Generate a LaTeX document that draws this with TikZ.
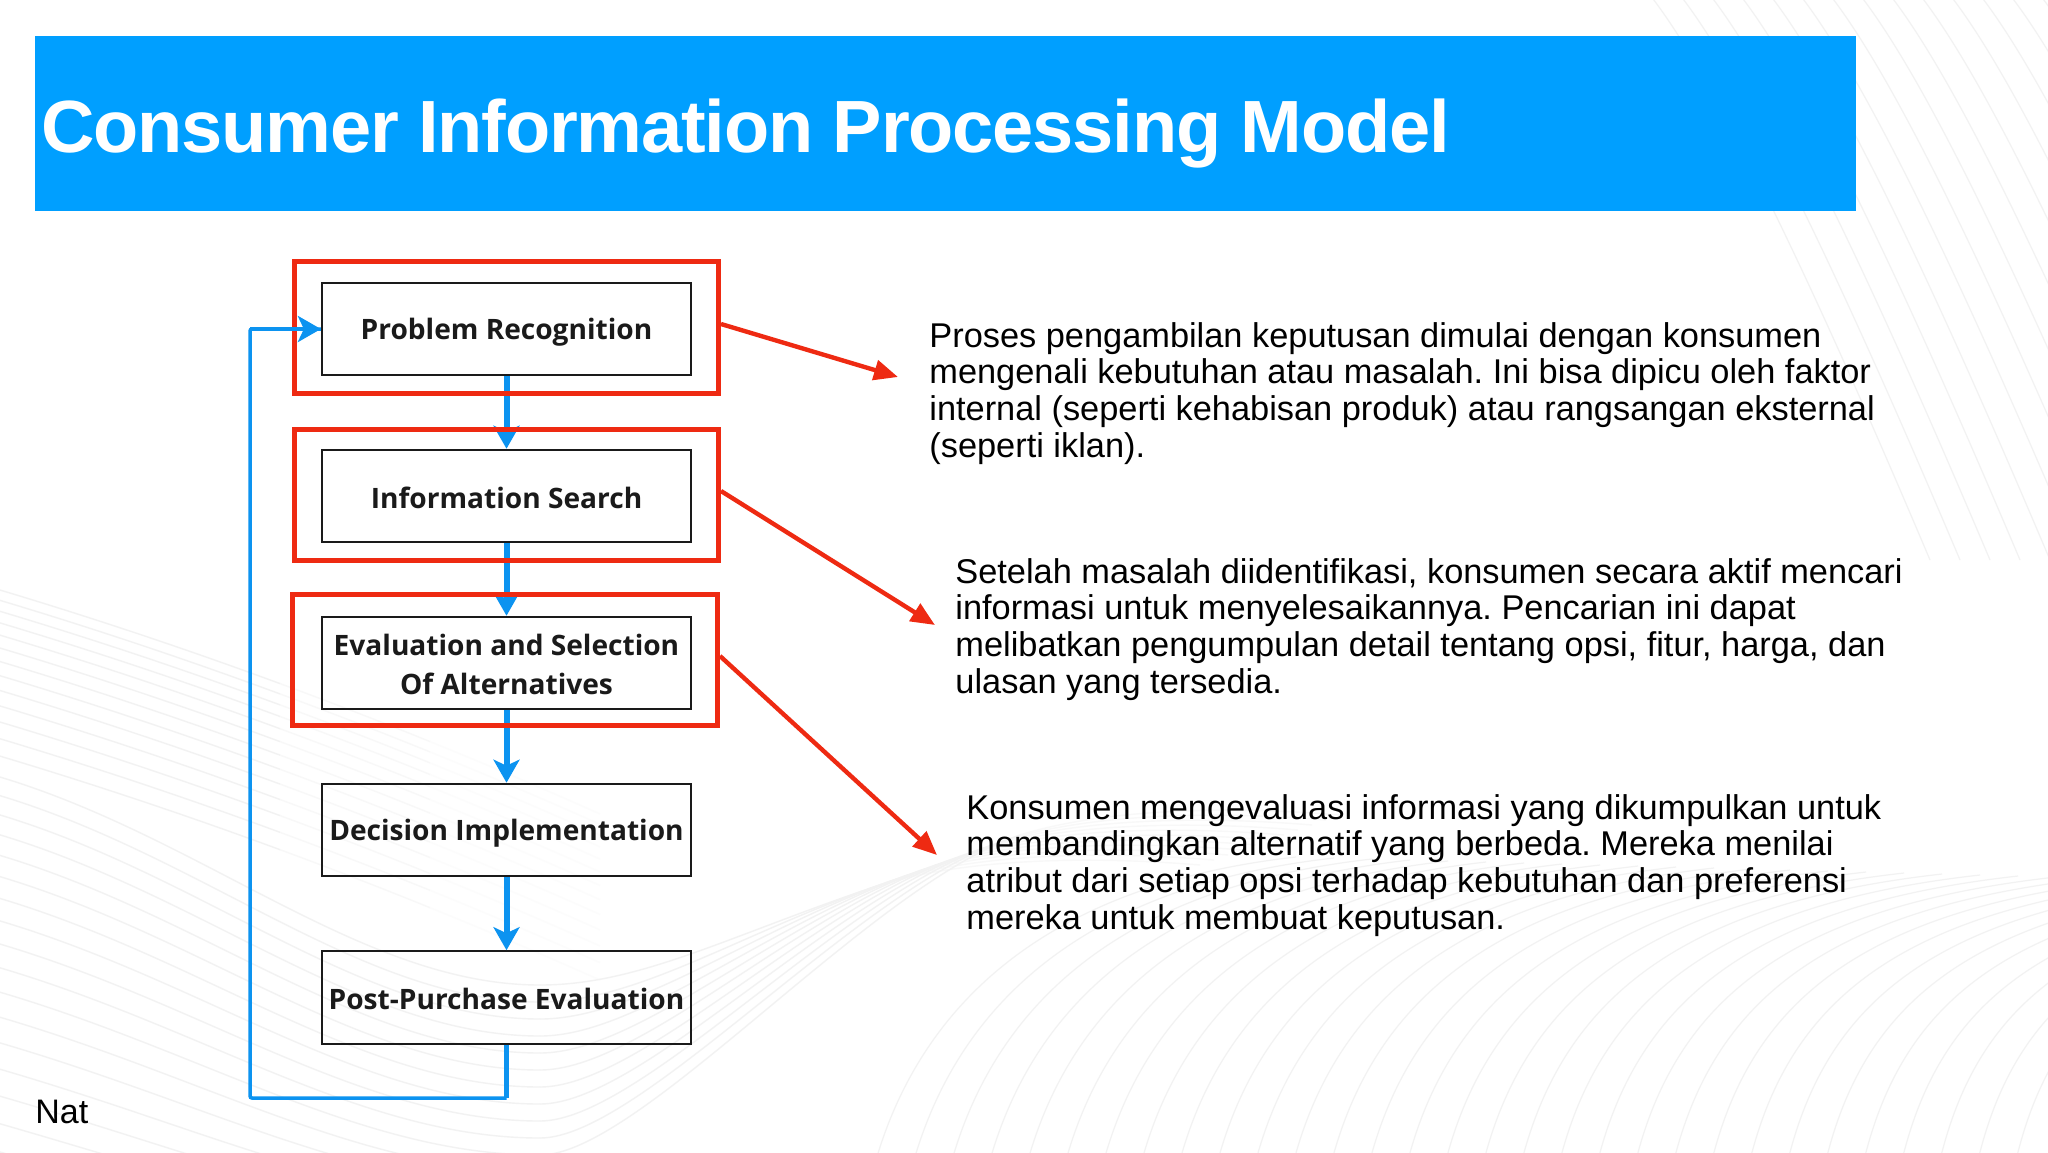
\documentclass[tikz,border=0pt]{standalone}
\usepackage{fontspec}
\setmainfont{Liberation Sans}
\newfontfamily\boxfont{Open Sans}[BoldFont={Open Sans Bold}]
\usetikzlibrary{arrows.meta}
\definecolor{titleblue}{HTML}{009FFF}
\definecolor{flowblue}{HTML}{0C93F0}
\definecolor{redline}{HTML}{EE2A12}
\definecolor{inkblack}{HTML}{1A1A1A}
\definecolor{wave}{HTML}{F2F2F2}
\definecolor{wavefaint}{HTML}{F8F8F8}
\definecolor{wavefainter}{HTML}{FCFCFC}
\newcommand\stg[1]{\rule[-2pt]{0pt}{16pt}#1}
\tikzset{
  x=0.5pt,y=-0.5pt,
  stage/.style={draw=inkblack,line width=1.1pt,minimum width=184.5pt,minimum height=46.2pt,inner sep=0pt,align=center,font=\boxfont\bfseries\fontsize{14.05}{19.25}\selectfont,text=inkblack},
  redbox/.style={draw=redline,line width=2.5pt,minimum width=212pt,inner sep=0pt},
  flow/.style={draw=flowblue,line width=3pt,-{Stealth[length=11.5pt,width=13pt,inset=3pt]}},
  feedback/.style={draw=flowblue,line width=1.75pt,rounded corners=1pt},
  pointer/.style={draw=redline,line width=2.2pt,-{Stealth[length=12pt,width=10pt,inset=0pt]}},
  body/.style={anchor=north west,align=left,inner sep=0pt,font=\frenchspacing\fontsize{17.18}{18.3}\selectfont,text=black},
  waveline/.style={draw=wave,line width=0.7pt}
}
\begin{document}
\begin{tikzpicture}
\useasboundingbox (0,0) rectangle (2048,1152);
\fill[white] (0,0) rectangle (2048,1152);
% faint background line pattern
\begin{scope}
\clip (0,0) rectangle (2048,1152);
% upper left lines, fading out towards the right
\foreach \i in {0,...,12}{
  \pgfmathsetmacro{\ya}{590+\i*(10+0.32*\i)}
  \draw[waveline] plot[domain=-10:280,samples=12] (\x,{\ya+0.30*\x+0.00012*\x*\x});
  \draw[waveline,draw=wavefaint] plot[domain=280:430,samples=8] (\x,{\ya+0.30*\x+0.00012*\x*\x});
  \draw[waveline,draw=wavefainter] plot[domain=430:600,samples=8] (\x,{\ya+0.30*\x+0.00012*\x*\x});
}
% lower left lines: down to a valley, up to the hump, and over it
\foreach \k in {0,...,17}{
  \pgfmathsetmacro{\ya}{590+(\k+13)*(10+0.32*(\k+13))}
  \pgfmathsetmacro{\yv}{985+17*\k}
  \draw[waveline] (-10,\ya) .. controls (200,{\ya+60}) and (360,\yv) .. (540,\yv);
  \ifnum\k<11
    \pgfmathsetmacro{\xc}{880+14*\k}
    \pgfmathsetmacro{\yc}{885-5*\k}
    \draw[waveline] (540,\yv) .. controls (640,\yv) and ({\xc-150},{\yc+50}) .. (\xc,\yc);
    \draw[waveline,draw=wavefaint] (\xc,\yc) .. controls ({\xc+80},{\yc-25}) and ({\xc+200},{\yc-30}) .. ({\xc+320},{\yc-20});
  \fi
}
% hump family, rising from the bottom edge and bending right
\foreach \j in {7,...,38}{
  \pgfmathsetmacro{\xa}{610+\j*38}
  \draw[waveline,line width=0.6pt] (\xa,1160) .. controls ({\xa+40},{1030-\j}) and ({\xa+150},{880+\j}) .. ({\xa+420},{850+\j});
}
% top right family
\foreach \i in {0,...,14}{
  \pgfmathsetmacro{\xb}{1650+\i*30}
  \draw[waveline,line width=0.6pt] (\xb,-5) .. controls ({\xb+70},85) and ({\xb+170},300) .. ({\xb+280},560);
}
\end{scope}
% title band
\node[fill=titleblue,minimum width=910.5pt,minimum height=87.5pt,inner sep=0pt,anchor=north west] (band) at (35,36) {};
\node[anchor=base west,inner sep=0pt,text=white,font=\bfseries\fontsize{37}{40}\selectfont\addfontfeature{LetterSpace=-1.6}] (title) at (41,152) {Consumer Information Processing Model};
% stages
\node[stage] (s1) at (506.5,329) {\stg{Problem Recognition}};
\node[stage] (s2) at (506.5,496) {\stg{Information Search}};
\node[stage] (s3) at (506.5,663) {\stg{Evaluation and Selection}\\\stg{Of Alternatives}};
\node[stage] (s4) at (506.5,830) {\stg{Decision Implementation}};
\node[stage] (s5) at (506.5,997.5) {\stg{Post-Purchase Evaluation}};
% flow arrows (beneath the red frames)
\draw[flow] (s1) -- (s2);
\draw[flow] (s2) -- (s3);
\draw[flow] (s3) -- (s4);
\draw[flow] (s4) -- (s5);
% red frames
\node[redbox,minimum height=66pt] (r1) at (506.5,327.5) {};
\node[redbox,minimum height=65.5pt] (r2) at (506.5,495) {};
\node[redbox,minimum height=65.5pt,minimum width=212.5pt] (r3) at (505,660) {};
% feedback loop
\coordinate (fb1) at (250,1098);
\coordinate (fb2) at (250,329);
\coordinate (fb0) at (506.5,1098);
\draw[draw=flowblue,line width=2.8pt] (s5.south) -- (fb0);
\draw[feedback] (fb0) -- (fb1) -- (fb2) -- (s1.west);
\draw[flow,line width=2.4pt] (fb2) -- (s1.west);
% pointers
\coordinate (t1) at (898,377);
\coordinate (t2) at (935,625);
\coordinate (t3) at (937,855);
\draw[pointer] (r1.east |- 0,324) -- (t1);
\draw[pointer] (r2.east |- 0,491) -- (t2);
\draw[pointer] (r3.east |- 0,656) -- (t3);
% body text
\node[body] (p1) at (929,322) {Proses pengambilan keputusan dimulai dengan konsumen\\mengenali kebutuhan atau masalah. Ini bisa dipicu oleh faktor\\internal (seperti kehabisan produk) atau rangsangan eksternal\\(seperti iklan).};
\node[body] (p2) at (955,558) {Setelah masalah diidentifikasi, konsumen secara aktif mencari\\informasi untuk menyelesaikannya. Pencarian ini dapat\\melibatkan pengumpulan detail tentang opsi, fitur, harga, dan\\ulasan yang tersedia.};
\node[body] (p3) at (966,794) {Konsumen mengevaluasi informasi yang dikumpulkan untuk\\membandingkan alternatif yang berbeda. Mereka menilai\\atribut dari setiap opsi terhadap kebutuhan dan preferensi\\mereka untuk membuat keputusan.};
\node[anchor=base west,inner sep=0pt,font=\fontsize{17}{18}\selectfont] (nat) at (35,1123) {Nat};
\end{tikzpicture}
\end{document}
